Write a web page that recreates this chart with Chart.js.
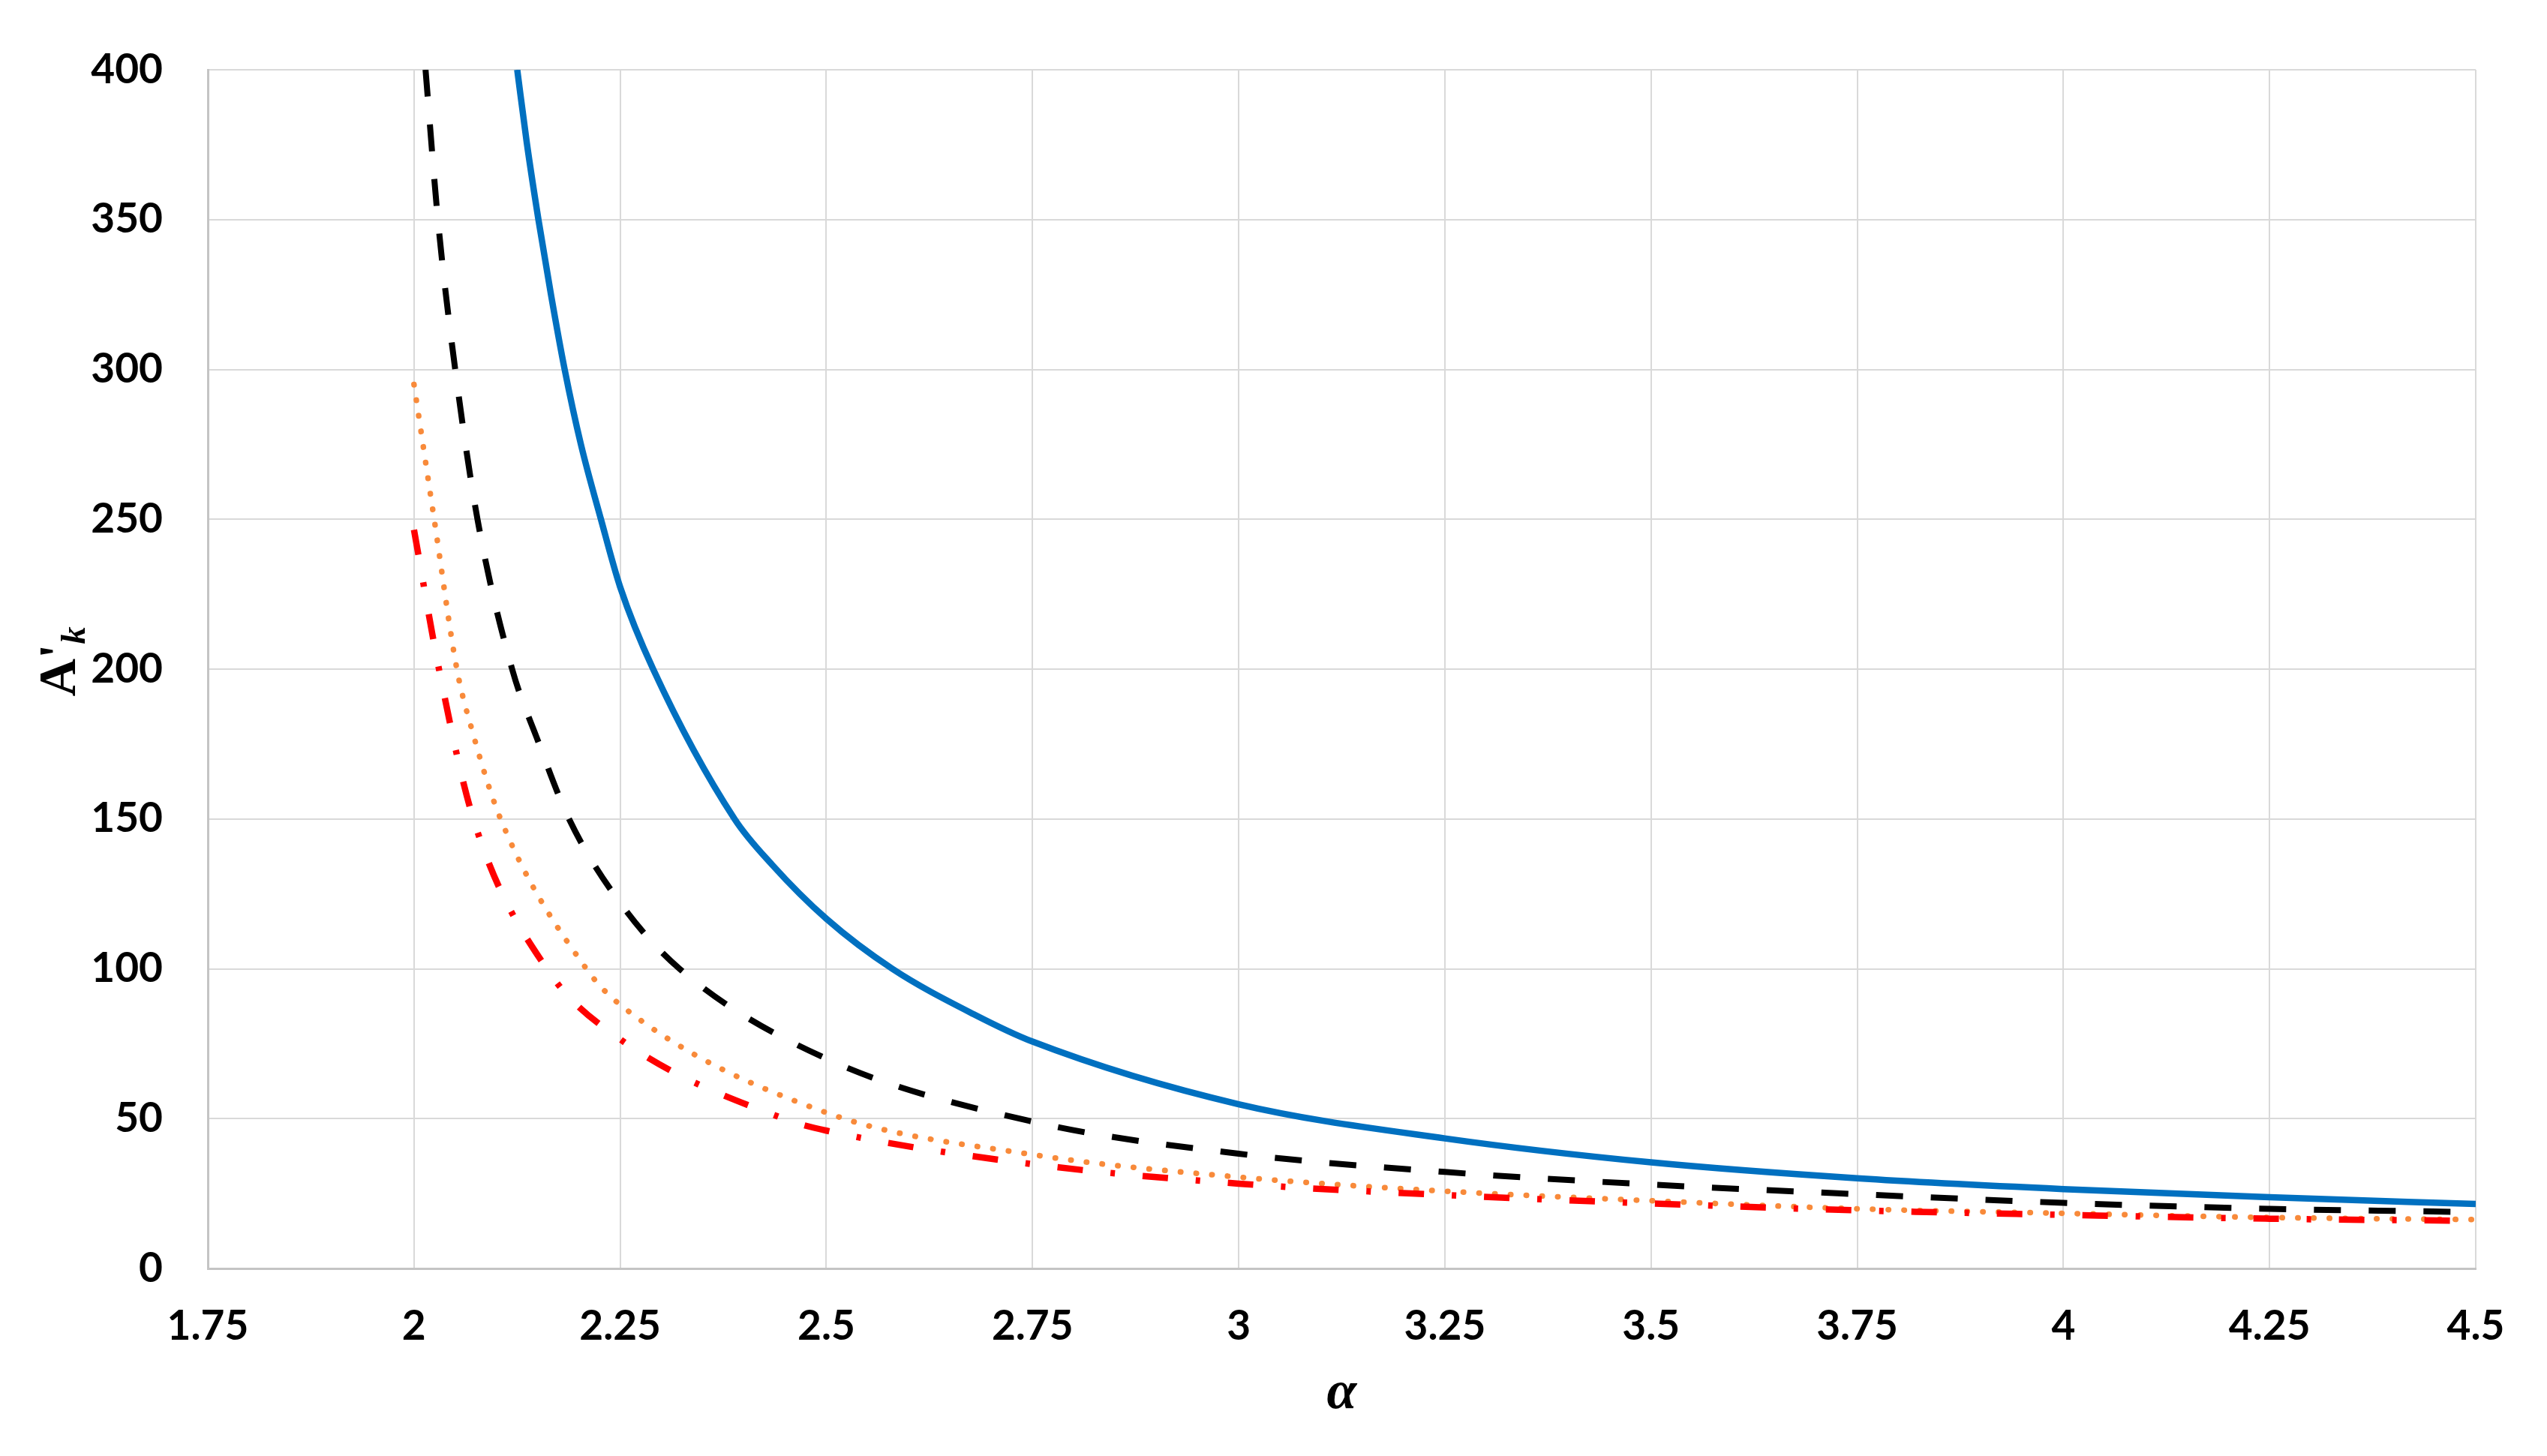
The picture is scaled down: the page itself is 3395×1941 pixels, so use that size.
<!DOCTYPE html>
<html>
<head>
<meta charset="utf-8">
<script src="https://cdn.jsdelivr.net/npm/chart.js@4.4.1/dist/chart.umd.min.js"></script>
<style>
  html, body { margin: 0; padding: 0; background: #fff; }
  canvas { display: block; }
</style>
</head>
<body>
<canvas id="grafico" width="3395" height="1941"></canvas>
<script>
// tick dell'asse
const xTicks = [1.75, 2, 2.25, 2.5, 2.75, 3, 3.25, 3.5, 3.75, 4, 4.25, 4.5];
const yTicks = [0, 50, 100, 150, 200, 250, 300, 350, 400];

// curva blu (continua)
const bluX = [2.1252, 2.1367, 2.1509, 2.1661, 2.1827, 2.2024, 2.2267, 2.25, 2.29, 2.3887, 2.434, 2.5, 2.58, 2.679, 2.75, 3.0, 3.25, 3.5, 3.75, 4.0, 4.25, 4.5];
const bluY = [400, 375.8, 350, 325, 300, 275, 250, 227.4, 200, 150, 134.8, 116.7, 100, 84.8, 75.7, 54.8, 43.4, 35.4, 30.1, 26.5, 23.8, 21.5];

// curva nera (tratteggiata)
const neroX = [2.014, 2.029, 2.050, 2.077, 2.119, 2.149, 2.188, 2.25, 2.322, 2.5, 2.75, 3.0, 3.25, 3.5, 3.75, 4.0, 4.25, 4.5];
const neroY = [400, 350, 300, 250, 200, 177, 150, 122, 100, 70, 49, 38.3, 32.2, 28, 24.8, 21.9, 19.9, 18.8];

// curva arancione (punteggiata)
const aranX = [2.0, 2.0245, 2.052, 2.07, 2.105, 2.209, 2.25, 2.5, 2.75, 3.0, 3.25, 3.5, 3.75, 4.0, 4.25, 4.5];
const aranY = [295, 250, 200, 180, 150, 100, 88, 52, 38, 30.5, 25.8, 22.6, 19.9, 18.4, 17.0, 16.3];

// curva rossa (tratto-punto)
const rossoX = [2.0, 2.0303, 2.072, 2.161, 2.25, 2.448, 2.5, 2.75, 3.0, 3.25, 3.5, 3.75, 4.0, 4.25, 4.5];
const rossoY = [246.5, 200, 150, 100, 76.5, 50, 46, 34.8, 28.3, 24.5, 21.7, 19.4, 17.9, 16.6, 15.9];

function punti(xs, ys) {
  return xs.map((x, i) => ({ x: x, y: ys[i] }));
}

const fontTick = { family: 'Lato', weight: 'bold', size: 55 };

// titolo asse y: A' con k in pedice
const titoloY = {
  id: 'titoloY',
  afterDraw(chart) {
    const c = chart.ctx;
    const fA = 'bold 70px "Liberation Serif"';
    const fK = 'italic bold 46px "Liberation Serif"';
    c.save();
    c.translate(100, 882);
    c.rotate(-Math.PI / 2);
    c.fillStyle = '#000';
    c.textBaseline = 'alphabetic';
    c.font = fA;
    const wA = c.measureText("A'").width;
    c.font = fK;
    const wK = c.measureText('k').width;
    const x0 = -(wA + wK) / 2;
    c.font = fA;
    c.fillText("A'", x0, 0);
    c.font = fK;
    c.fillText('k', x0 + wA, 13);
    c.restore();
  }
};

const ctx = document.getElementById('grafico').getContext('2d');
const grafico = new Chart(ctx, {
  type: 'line',
  data: {
    datasets: [
      {
        label: 'rosso',
        data: punti(rossoX, rossoY),
        borderColor: '#FF0000',
        borderWidth: 8.5,
        borderDash: [34, 37, 6, 37],
        borderCapStyle: 'butt',
        cubicInterpolationMode: 'monotone',
        pointRadius: 0,
        fill: false
      },
      {
        label: 'arancione',
        data: punti(aranX, aranY),
        borderColor: '#F88A3A',
        borderWidth: 7.5,
        borderDash: [0.5, 20.5],
        borderCapStyle: 'round',
        cubicInterpolationMode: 'monotone',
        pointRadius: 0,
        fill: false
      },
      {
        label: 'nero',
        data: punti(neroX, neroY),
        borderColor: '#000000',
        borderWidth: 8,
        borderDash: [36, 37],
        borderCapStyle: 'butt',
        cubicInterpolationMode: 'monotone',
        pointRadius: 0,
        fill: false
      },
      {
        label: 'blu',
        data: punti(bluX, bluY),
        borderColor: '#0070C0',
        borderWidth: 8.5,
        cubicInterpolationMode: 'monotone',
        pointRadius: 0,
        fill: false
      }
    ]
  },
  options: {
    responsive: false,
    animation: false,
    layout: { padding: { top: 87, right: 95, left: 0, bottom: 0 } },
    plugins: {
      legend: { display: false },
      tooltip: { enabled: false }
    },
    scales: {
      x: {
        type: 'linear',
        min: 1.75,
        max: 4.5,
        afterBuildTicks: s => { s.ticks = xTicks.map(v => ({ value: v })); },
        afterFit: s => { s.height = 250; },
        grid: { color: '#D9D9D9', lineWidth: 2, drawTicks: false },
        border: { color: '#C4C4C4', width: 3 },
        ticks: {
          padding: 44,
          color: '#000',
          font: fontTick,
          maxRotation: 0,
          autoSkip: false,
          callback: v => String(v)
        },
        title: {
          display: true,
          text: 'α',
          color: '#000',
          font: { family: '"Liberation Serif"', style: 'italic', weight: 'bold', size: 72 },
          padding: { top: 0, bottom: 39 }
        }
      },
      y: {
        type: 'linear',
        min: 0,
        max: 400,
        afterBuildTicks: s => { s.ticks = yTicks.map(v => ({ value: v })); },
        afterFit: s => { s.width = 277; },
        grid: { color: '#D9D9D9', lineWidth: 2, drawTicks: false },
        border: { color: '#C4C4C4', width: 3 },
        ticks: {
          padding: 60,
          color: '#000',
          font: fontTick,
          callback: v => String(v)
        }
      }
    }
  },
  plugins: [titoloY]
});
</script>
</body>
</html>
